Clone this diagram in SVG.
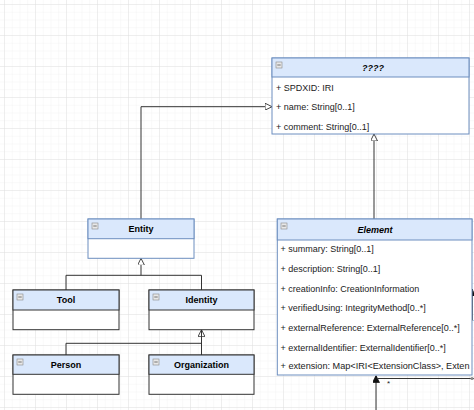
<svg xmlns="http://www.w3.org/2000/svg" width="474" height="410" viewBox="0 0 474 410">
<defs>
<pattern id="minor" x="4" y="4" width="7.75" height="7.75" patternUnits="userSpaceOnUse">
<path d="M0,0 H7.75 M0,0 V7.75" fill="none" stroke="#efefef" stroke-width="0.8"/>
</pattern>
<pattern id="major" x="4" y="4" width="31" height="31" patternUnits="userSpaceOnUse">
<path d="M0,0 H31 M0,0 V31" fill="none" stroke="#e0e0e0" stroke-width="0.9"/>
</pattern>
<marker id="hollow" viewBox="0 0 10 10" refX="10" refY="5" markerWidth="7" markerHeight="7" markerUnits="userSpaceOnUse" orient="auto">
<path d="M0,0 L10,5 L0,10 Z" fill="#fff" stroke="#333" stroke-width="1.3"/>
</marker>
<marker id="filled" viewBox="0 0 10 10" refX="10" refY="5" markerWidth="7" markerHeight="7" markerUnits="userSpaceOnUse" orient="auto">
<path d="M0,0 L10,5 L0,10 Z" fill="#111" stroke="#111"/>
</marker>
<style>
.hdr{fill:#dae8fc;stroke:#6c8ebf;stroke-width:1}
.hdrd{fill:#dae8fc;stroke:#333;stroke-width:1}
.body{fill:#fff;stroke:#6c8ebf;stroke-width:1}
.bodyd{fill:#fff;stroke:#333;stroke-width:1}
.t{font-family:"Liberation Sans",Arial,sans-serif;font-size:9px;font-weight:bold;fill:#000;text-anchor:middle}
.ti{font-family:"Liberation Sans",Arial,sans-serif;font-size:9px;font-weight:bold;font-style:italic;fill:#000;text-anchor:middle}
.a{font-family:"Liberation Sans",Arial,sans-serif;font-size:9px;fill:#222}
.lbl{font-family:"Liberation Sans",Arial,sans-serif;font-size:8px;fill:#222}
.icon{fill:#e8e8e8;stroke:#888;stroke-width:0.6}
.iconm{stroke:#555;stroke-width:0.8}
.c{fill:none;stroke:#333;stroke-width:1}
</style>
</defs>
<rect width="474" height="410" fill="#fff"/>
<rect width="474" height="410" fill="url(#minor)"/>
<rect width="474" height="410" fill="url(#major)"/>

<g id="connectors">
<path class="c" d="M141,219 V106.7 H272" marker-end="url(#hollow)"/>
<path class="c" d="M374,219 V134" marker-end="url(#hollow)"/>
<path class="c" d="M66,290 V275.3 H141 V258.3" marker-end="url(#hollow)"/>
<path class="c" d="M201.5,290 V275.3 H141"/>
<path class="c" d="M66,355 V343.3 H201.5 V329.7" marker-end="url(#hollow)"/>
<path class="c" d="M201.5,355 V329.7"/>
<path class="c" d="M376,410 V375.5" marker-end="url(#filled)"/>
<path class="c" d="M378,378.5 H474"/>
<circle cx="472" cy="378.5" r="1.6" fill="#888"/>
<path d="M472,320 V289" fill="none" stroke="#555" stroke-width="2" marker-end="url(#filled)"/>
<text class="lbl" x="387" y="386">*</text>
<text class="lbl" x="465" y="321">1..</text>
</g>

<g id="node-unknown">
<rect class="body" x="272" y="58" width="197" height="76"/>
<rect class="hdr" x="272" y="58" width="197" height="19"/>
<rect class="icon" x="276" y="62" width="6" height="6"/><path class="iconm" d="M277.3,65 H280.7"/>
<text class="ti" x="373" y="70.5">????</text>
<text class="a" x="276" y="91">+ SPDXID: IRI</text>
<text class="a" x="276" y="110">+ name: String[0..1]</text>
<text class="a" x="276" y="130">+ comment: String[0..1]</text>
</g>

<g id="node-entity">
<rect class="body" x="88" y="219" width="106" height="39.3"/>
<rect class="hdr" x="88" y="219" width="106" height="19.7"/>
<rect class="icon" x="92" y="223" width="6" height="6"/><path class="iconm" d="M93.3,226 H96.7"/>
<text class="t" x="141" y="232.3">Entity</text>
</g>

<g id="node-tool">
<rect class="bodyd" x="13" y="290" width="106" height="39.7"/>
<rect class="hdrd" x="13" y="290" width="106" height="20"/>
<rect class="icon" x="17" y="294" width="6" height="6"/><path class="iconm" d="M18.3,297 H21.7"/>
<text class="t" x="66" y="303.3">Tool</text>
</g>

<g id="node-identity">
<rect class="bodyd" x="149" y="290" width="105" height="39.7"/>
<rect class="hdrd" x="149" y="290" width="105" height="20"/>
<rect class="icon" x="153" y="294" width="6" height="6"/><path class="iconm" d="M154.3,297 H157.7"/>
<text class="t" x="201.5" y="303.3">Identity</text>
</g>

<g id="node-person">
<rect class="bodyd" x="13" y="355" width="106" height="39.3"/>
<rect class="hdrd" x="13" y="355" width="106" height="19.3"/>
<rect class="icon" x="17" y="359" width="6" height="6"/><path class="iconm" d="M18.3,362 H21.7"/>
<text class="t" x="66" y="368.3">Person</text>
</g>

<g id="node-organization">
<rect class="bodyd" x="149" y="355" width="105" height="39.3"/>
<rect class="hdrd" x="149" y="355" width="105" height="19.3"/>
<rect class="icon" x="153" y="359" width="6" height="6"/><path class="iconm" d="M154.3,362 H157.7"/>
<text class="t" x="201.5" y="368.3">Organization</text>
</g>

<g id="node-element">
<rect class="body" x="277.3" y="219" width="194.7" height="156"/>
<rect class="hdr" x="277.3" y="219" width="194.7" height="21"/>
<rect class="icon" x="281" y="223" width="6" height="6"/><path class="iconm" d="M282.3,226 H285.7"/>
<text class="ti" x="375" y="232.8">Element</text>
<text class="a" x="280.5" y="252.2">+ summary: String[0..1]</text>
<text class="a" x="280.5" y="272.2">+ description: String[0..1]</text>
<text class="a" x="280.5" y="291.9">+ creationInfo: CreationInformation</text>
<text class="a" x="280.5" y="311.2">+ verifiedUsing: IntegrityMethod[0..*]</text>
<text class="a" x="280.5" y="331.2">+ externalReference: ExternalReference[0..*]</text>
<text class="a" x="280.5" y="350.9">+ externalIdentifier: ExternalIdentifier[0..*]</text>
<text class="a" x="280.5" y="368.9" textLength="189" lengthAdjust="spacingAndGlyphs">+ extension: Map&lt;IRI&lt;ExtensionClass&gt;, Exten</text>
</g>
</svg>
